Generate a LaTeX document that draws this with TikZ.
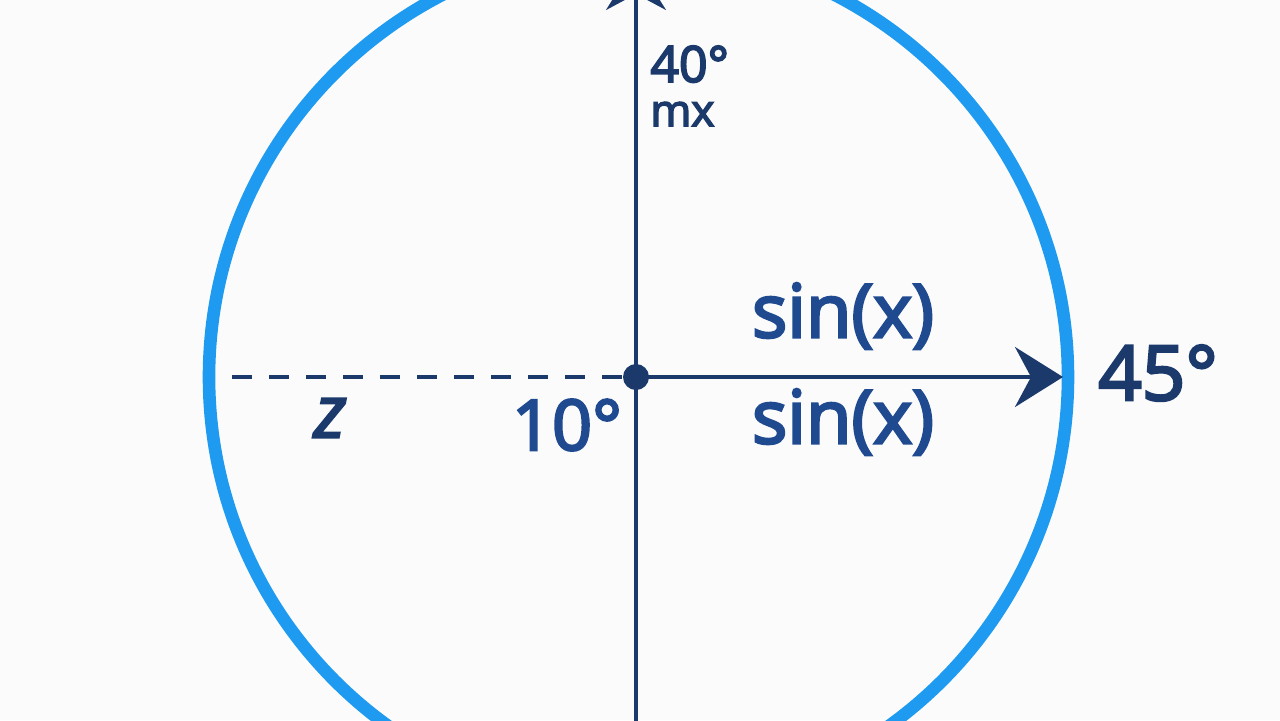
\documentclass[tikz,border=0pt]{standalone}
\usepackage{fontspec}
\setmainfont{Open Sans}
\newfontfamily\semib[FakeBold=3.5]{Open Sans}
\usetikzlibrary{arrows.meta}
\definecolor{navy}{HTML}{1B3A6B}
\definecolor{midblue}{HTML}{1F4A90}
\definecolor{ringblue}{HTML}{1E9BF0}
\definecolor{bg}{HTML}{FBFBFB}
\begin{document}
\begin{tikzpicture}[x=0.5pt,y=-0.5pt,
  axis/.style={draw=navy,line width=1.6pt},
  tip/.style={-{Stealth[length=24pt,width=30pt,inset=8pt]}},
  lbl/.style={inner sep=0pt,text=navy},
  blbl/.style={inner sep=0pt,text=midblue}]
\fill[bg] (0,0) rectangle (1280,720);
\useasboundingbox (0,0) rectangle (1280,720);
\begin{scope}
\clip (0,0) rectangle (1280,720);
\draw[ringblue,line width=6.3pt] (638.5,377) circle (429.5);
\coordinate (bot) at (636,730);
\coordinate (top) at (636,-38);
\coordinate (east) at (1063,377);
\coordinate (west) at (232,377);
\node[circle,fill=navy,minimum size=13pt,inner sep=0pt] (o) at (636,377) {};
\draw[axis,tip] (bot) -- (top);
\draw[axis,tip] (o.center) -- (east);
\draw[draw=navy,line width=2pt,dash pattern=on 10pt off 8.5pt] (west) -- (o.west);
\end{scope}
\node[lbl,anchor=base west,text depth=0pt,font=\semib\fontsize{25}{25}\selectfont] (t40) at (650,82) {40°};
\node[lbl,anchor=base west,text height=11pt,font=\semib\fontsize{22}{22}\selectfont] (tmx) at (650,126) {mx};
\node[blbl,font=\semib\fontsize{37}{37}\selectfont] (s1) at (843,316) {sin(x)};
\node[blbl,font=\semib\fontsize{37}{37}\selectfont] (s2) at (843,422) {sin(x)};
\node[lbl,anchor=west,font=\semib\fontsize{38}{38}\selectfont] (t45) at (1098,373) {45°};
\node[blbl,font=\semib\fontsize{35}{35}\selectfont] (t10) at (567,425) {10°};
\node[lbl,font=\semib\fontsize{36}{36}\selectfont\itshape] (z) at (330,418) {z};
\end{tikzpicture}
\end{document}
